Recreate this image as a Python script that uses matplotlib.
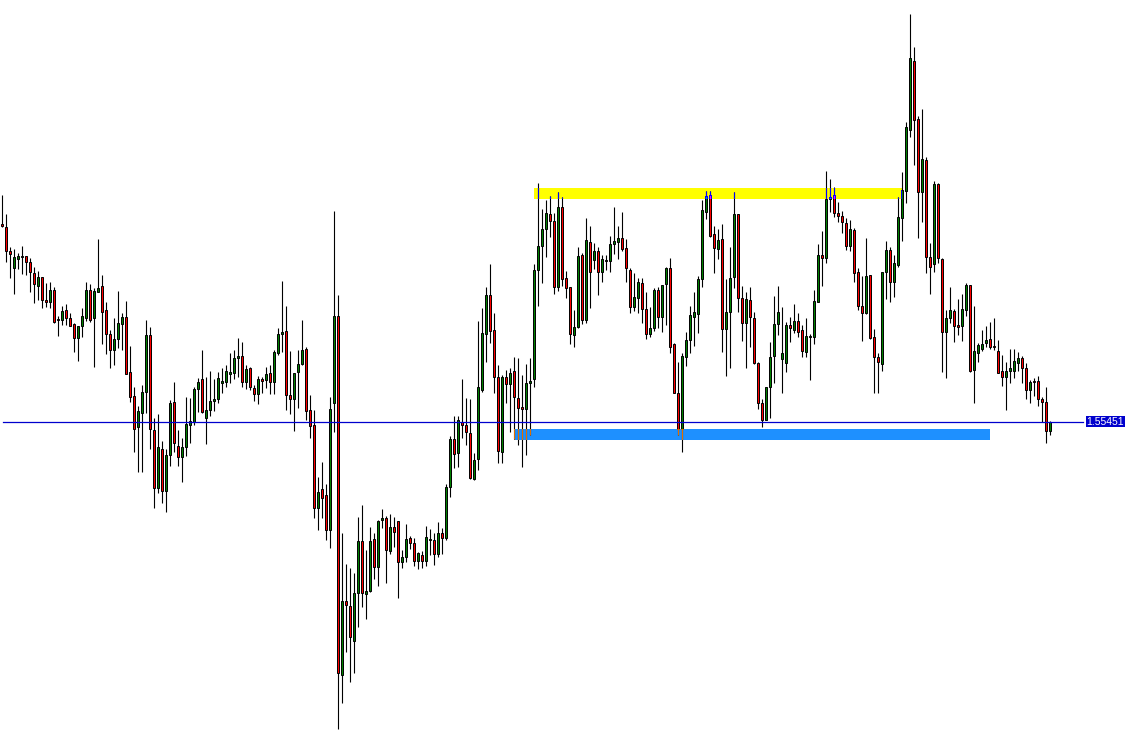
import numpy as np
import matplotlib
matplotlib.use("Agg")
import matplotlib.pyplot as plt
import matplotlib.colors as mcolors
import matplotlib.transforms as mtransforms
from matplotlib.patches import Rectangle
from matplotlib.collections import LineCollection

# OHLC, one value per bar (oldest first)
opens = [
    1.5743, 1.5740, 1.5716, 1.5699, 1.5708, 1.5710, 1.5711, 1.5705, 1.5694, 1.5681,
    1.5690, 1.5667, 1.5665, 1.5677, 1.5648, 1.5647, 1.5657, 1.5649, 1.5643, 1.5629,
    1.5641, 1.5649, 1.5677, 1.5649, 1.5675, 1.5681, 1.5657, 1.5633, 1.5617, 1.5628,
    1.5643, 1.5650, 1.5595, 1.5571, 1.5540, 1.5554, 1.5575, 1.5632, 1.5537, 1.5479,
    1.5518, 1.5476, 1.5512, 1.5565, 1.5521, 1.5510, 1.5520, 1.5542, 1.5545, 1.5578,
    1.5588, 1.5549, 1.5557, 1.5566, 1.5568, 1.5584, 1.5585, 1.5593, 1.5594, 1.5609,
    1.5611, 1.5585, 1.5599, 1.5579, 1.5573, 1.5588, 1.5587, 1.5594, 1.5585, 1.5614,
    1.5633, 1.5636, 1.5572, 1.5568, 1.5595, 1.5603, 1.5618, 1.5557, 1.5542, 1.5459,
    1.5478, 1.5472, 1.5437, 1.5564, 1.5651, 1.5292, 1.5366, 1.5361, 1.5326, 1.5374,
    1.5426, 1.5373, 1.5376, 1.5428, 1.5400, 1.5447, 1.5449, 1.5416, 1.5440, 1.5446,
    1.5405, 1.5410, 1.5429, 1.5424, 1.5406, 1.5412, 1.5406, 1.5427, 1.5427, 1.5413,
    1.5434, 1.5429, 1.5480, 1.5528, 1.5514, 1.5545, 1.5542, 1.5534, 1.5488, 1.5508,
    1.5577, 1.5633, 1.5672, 1.5637, 1.5590, 1.5515, 1.5590, 1.5583, 1.5596, 1.5569,
    1.5560, 1.5558, 1.5584, 1.5588, 1.5697, 1.5721, 1.5738, 1.5753, 1.5746, 1.5680,
    1.5760, 1.5689, 1.5680, 1.5632, 1.5640, 1.5712, 1.5647, 1.5725, 1.5707, 1.5716,
    1.5695, 1.5706, 1.5706, 1.5723, 1.5725, 1.5729, 1.5719, 1.5697, 1.5660, 1.5669,
    1.5684, 1.5658, 1.5633, 1.5639, 1.5677, 1.5650, 1.5683, 1.5699, 1.5623, 1.5574,
    1.5538, 1.5610, 1.5627, 1.5650, 1.5653, 1.5688, 1.5755, 1.5772, 1.5733, 1.5718,
    1.5728, 1.5638, 1.5655, 1.5690, 1.5753, 1.5669, 1.5644, 1.5667, 1.5649, 1.5604,
    1.5564, 1.5547, 1.5580, 1.5611, 1.5643, 1.5608, 1.5604, 1.5642, 1.5637, 1.5646,
    1.5637, 1.5615, 1.5630, 1.5630, 1.5665, 1.5712, 1.5709, 1.5768, 1.5772, 1.5754,
    1.5751, 1.5744, 1.5721, 1.5737, 1.5695, 1.5661, 1.5654, 1.5692, 1.5630, 1.5610,
    1.5603, 1.5695, 1.5717, 1.5685, 1.5702, 1.5749, 1.5776, 1.5837, 1.5906, 1.5848,
    1.5775, 1.5807, 1.5710, 1.5703, 1.5783, 1.5708, 1.5635, 1.5649, 1.5656, 1.5642,
    1.5641, 1.5657, 1.5682, 1.5597, 1.5614, 1.5618, 1.5624, 1.5628, 1.5621, 1.5616,
    1.5596, 1.5590, 1.5596, 1.5596, 1.5604, 1.5609, 1.5599, 1.5577, 1.5586, 1.5586,
    1.5568, 1.5565, 1.5536,
]
highs = [
    1.5772, 1.5753, 1.5720, 1.5718, 1.5714, 1.5721, 1.5711, 1.5709, 1.5700, 1.5696,
    1.5690, 1.5684, 1.5685, 1.5680, 1.5651, 1.5661, 1.5663, 1.5654, 1.5644, 1.5641,
    1.5659, 1.5685, 1.5683, 1.5679, 1.5728, 1.5692, 1.5665, 1.5637, 1.5649, 1.5676,
    1.5654, 1.5666, 1.5621, 1.5580, 1.5561, 1.5582, 1.5647, 1.5640, 1.5549, 1.5553,
    1.5526, 1.5518, 1.5567, 1.5585, 1.5537, 1.5529, 1.5570, 1.5569, 1.5580, 1.5589,
    1.5617, 1.5590, 1.5596, 1.5588, 1.5595, 1.5599, 1.5602, 1.5614, 1.5617, 1.5629,
    1.5625, 1.5602, 1.5600, 1.5582, 1.5591, 1.5590, 1.5600, 1.5602, 1.5617, 1.5639,
    1.5686, 1.5661, 1.5616, 1.5594, 1.5617, 1.5647, 1.5620, 1.5572, 1.5557, 1.5490,
    1.5505, 1.5483, 1.5570, 1.5756, 1.5672, 1.5434, 1.5403, 1.5399, 1.5394, 1.5450,
    1.5462, 1.5417, 1.5440, 1.5434, 1.5447, 1.5458, 1.5451, 1.5453, 1.5450, 1.5446,
    1.5417, 1.5443, 1.5431, 1.5429, 1.5415, 1.5416, 1.5441, 1.5438, 1.5434, 1.5445,
    1.5439, 1.5483, 1.5531, 1.5551, 1.5551, 1.5588, 1.5569, 1.5568, 1.5514, 1.5646,
    1.5659, 1.5680, 1.5703, 1.5654, 1.5602, 1.5592, 1.5597, 1.5599, 1.5610, 1.5609,
    1.5592, 1.5603, 1.5609, 1.5703, 1.5784, 1.5758, 1.5767, 1.5771, 1.5754, 1.5775,
    1.5770, 1.5696, 1.5680, 1.5657, 1.5720, 1.5714, 1.5749, 1.5741, 1.5724, 1.5720,
    1.5712, 1.5712, 1.5731, 1.5760, 1.5741, 1.5755, 1.5728, 1.5699, 1.5694, 1.5689,
    1.5689, 1.5675, 1.5660, 1.5679, 1.5680, 1.5682, 1.5700, 1.5709, 1.5624, 1.5605,
    1.5614, 1.5635, 1.5661, 1.5675, 1.5691, 1.5767, 1.5776, 1.5776, 1.5741, 1.5738,
    1.5743, 1.5688, 1.5720, 1.5775, 1.5753, 1.5681, 1.5675, 1.5680, 1.5655, 1.5605,
    1.5568, 1.5580, 1.5625, 1.5671, 1.5681, 1.5660, 1.5645, 1.5650, 1.5663, 1.5654,
    1.5642, 1.5649, 1.5633, 1.5677, 1.5723, 1.5736, 1.5796, 1.5788, 1.5780, 1.5765,
    1.5756, 1.5749, 1.5747, 1.5739, 1.5699, 1.5691, 1.5729, 1.5692, 1.5638, 1.5614,
    1.5695, 1.5726, 1.5720, 1.5712, 1.5770, 1.5795, 1.5845, 1.5953, 1.5920, 1.5851,
    1.5858, 1.5810, 1.5724, 1.5786, 1.5784, 1.5709, 1.5657, 1.5680, 1.5658, 1.5668,
    1.5673, 1.5684, 1.5682, 1.5661, 1.5624, 1.5637, 1.5641, 1.5645, 1.5649, 1.5627,
    1.5612, 1.5605, 1.5618, 1.5618, 1.5615, 1.5611, 1.5604, 1.5587, 1.5589, 1.5591,
    1.5570, 1.5580, 1.5546,
]
lows = [
    1.5740, 1.5705, 1.5689, 1.5673, 1.5698, 1.5693, 1.5692, 1.5675, 1.5664, 1.5667,
    1.5659, 1.5660, 1.5659, 1.5644, 1.5631, 1.5642, 1.5642, 1.5641, 1.5615, 1.5606,
    1.5630, 1.5646, 1.5645, 1.5600, 1.5675, 1.5623, 1.5613, 1.5599, 1.5602, 1.5619,
    1.5617, 1.5593, 1.5565, 1.5515, 1.5495, 1.5495, 1.5554, 1.5518, 1.5459, 1.5474,
    1.5464, 1.5455, 1.5501, 1.5515, 1.5501, 1.5485, 1.5511, 1.5524, 1.5542, 1.5555,
    1.5554, 1.5523, 1.5551, 1.5556, 1.5564, 1.5574, 1.5580, 1.5584, 1.5588, 1.5590,
    1.5580, 1.5578, 1.5577, 1.5566, 1.5563, 1.5574, 1.5579, 1.5573, 1.5573, 1.5612,
    1.5615, 1.5557, 1.5553, 1.5536, 1.5559, 1.5602, 1.5547, 1.5529, 1.5449, 1.5437,
    1.5449, 1.5427, 1.5419, 1.5535, 1.5238, 1.5264, 1.5315, 1.5285, 1.5294, 1.5340,
    1.5360, 1.5348, 1.5375, 1.5388, 1.5381, 1.5439, 1.5384, 1.5413, 1.5420, 1.5369,
    1.5399, 1.5405, 1.5418, 1.5401, 1.5398, 1.5399, 1.5401, 1.5412, 1.5402, 1.5410,
    1.5413, 1.5427, 1.5470, 1.5499, 1.5500, 1.5529, 1.5522, 1.5488, 1.5487, 1.5497,
    1.5575, 1.5605, 1.5624, 1.5574, 1.5504, 1.5504, 1.5564, 1.5535, 1.5528, 1.5522,
    1.5500, 1.5512, 1.5532, 1.5580, 1.5661, 1.5684, 1.5710, 1.5730, 1.5673, 1.5676,
    1.5681, 1.5669, 1.5623, 1.5620, 1.5639, 1.5643, 1.5644, 1.5659, 1.5698, 1.5672,
    1.5685, 1.5697, 1.5695, 1.5713, 1.5708, 1.5716, 1.5685, 1.5654, 1.5656, 1.5654,
    1.5644, 1.5628, 1.5630, 1.5636, 1.5639, 1.5635, 1.5642, 1.5614, 1.5574, 1.5532,
    1.5515, 1.5601, 1.5614, 1.5621, 1.5634, 1.5680, 1.5748, 1.5730, 1.5694, 1.5708,
    1.5615, 1.5591, 1.5599, 1.5679, 1.5655, 1.5626, 1.5599, 1.5620, 1.5603, 1.5558,
    1.5540, 1.5547, 1.5549, 1.5584, 1.5632, 1.5574, 1.5595, 1.5625, 1.5634, 1.5630,
    1.5610, 1.5610, 1.5587, 1.5623, 1.5665, 1.5681, 1.5704, 1.5755, 1.5750, 1.5745,
    1.5734, 1.5717, 1.5716, 1.5685, 1.5657, 1.5626, 1.5653, 1.5628, 1.5574, 1.5574,
    1.5596, 1.5668, 1.5665, 1.5670, 1.5700, 1.5726, 1.5764, 1.5830, 1.5802, 1.5729,
    1.5745, 1.5694, 1.5673, 1.5695, 1.5704, 1.5595, 1.5589, 1.5644, 1.5625, 1.5632,
    1.5626, 1.5651, 1.5595, 1.5564, 1.5605, 1.5616, 1.5620, 1.5618, 1.5617, 1.5594,
    1.5581, 1.5557, 1.5584, 1.5589, 1.5596, 1.5584, 1.5568, 1.5564, 1.5571, 1.5561,
    1.5545, 1.5524, 1.5532,
]
closes = [
    1.5741, 1.5716, 1.5713, 1.5710, 1.5711, 1.5711, 1.5705, 1.5695, 1.5683, 1.5690,
    1.5667, 1.5665, 1.5677, 1.5645, 1.5647, 1.5656, 1.5649, 1.5641, 1.5629, 1.5641,
    1.5651, 1.5677, 1.5647, 1.5676, 1.5679, 1.5655, 1.5633, 1.5617, 1.5628, 1.5644,
    1.5650, 1.5593, 1.5570, 1.5538, 1.5556, 1.5575, 1.5632, 1.5538, 1.5479, 1.5520,
    1.5476, 1.5512, 1.5564, 1.5524, 1.5510, 1.5520, 1.5543, 1.5546, 1.5578, 1.5585,
    1.5555, 1.5557, 1.5566, 1.5568, 1.5589, 1.5586, 1.5596, 1.5595, 1.5609, 1.5611,
    1.5585, 1.5598, 1.5580, 1.5573, 1.5588, 1.5586, 1.5593, 1.5585, 1.5615, 1.5633,
    1.5635, 1.5572, 1.5568, 1.5594, 1.5603, 1.5617, 1.5556, 1.5541, 1.5459, 1.5475,
    1.5469, 1.5437, 1.5558, 1.5651, 1.5294, 1.5366, 1.5362, 1.5330, 1.5374, 1.5426,
    1.5374, 1.5376, 1.5426, 1.5400, 1.5446, 1.5449, 1.5417, 1.5440, 1.5435, 1.5405,
    1.5410, 1.5428, 1.5424, 1.5406, 1.5414, 1.5406, 1.5430, 1.5428, 1.5413, 1.5434,
    1.5429, 1.5480, 1.5528, 1.5513, 1.5547, 1.5542, 1.5535, 1.5489, 1.5507, 1.5580,
    1.5634, 1.5672, 1.5636, 1.5590, 1.5516, 1.5590, 1.5583, 1.5594, 1.5570, 1.5559,
    1.5558, 1.5584, 1.5586, 1.5697, 1.5721, 1.5738, 1.5754, 1.5746, 1.5680, 1.5760,
    1.5688, 1.5679, 1.5633, 1.5640, 1.5711, 1.5647, 1.5727, 1.5695, 1.5716, 1.5695,
    1.5708, 1.5707, 1.5723, 1.5726, 1.5729, 1.5718, 1.5699, 1.5660, 1.5670, 1.5685,
    1.5658, 1.5633, 1.5639, 1.5677, 1.5650, 1.5682, 1.5699, 1.5620, 1.5574, 1.5538,
    1.5611, 1.5627, 1.5652, 1.5655, 1.5688, 1.5757, 1.5771, 1.5731, 1.5719, 1.5727,
    1.5638, 1.5655, 1.5689, 1.5753, 1.5669, 1.5644, 1.5668, 1.5650, 1.5604, 1.5564,
    1.5547, 1.5580, 1.5610, 1.5643, 1.5655, 1.5614, 1.5642, 1.5639, 1.5646, 1.5635,
    1.5616, 1.5631, 1.5631, 1.5666, 1.5712, 1.5709, 1.5768, 1.5770, 1.5754, 1.5751,
    1.5745, 1.5721, 1.5738, 1.5694, 1.5661, 1.5654, 1.5691, 1.5629, 1.5610, 1.5605,
    1.5695, 1.5717, 1.5685, 1.5704, 1.5750, 1.5777, 1.5840, 1.5909, 1.5847, 1.5775,
    1.5808, 1.5710, 1.5700, 1.5783, 1.5709, 1.5635, 1.5649, 1.5657, 1.5641, 1.5640,
    1.5658, 1.5682, 1.5596, 1.5616, 1.5622, 1.5623, 1.5627, 1.5620, 1.5620, 1.5594,
    1.5590, 1.5596, 1.5599, 1.5606, 1.5609, 1.5599, 1.5577, 1.5585, 1.5585, 1.5568,
    1.5565, 1.5536, 1.55451,
]

# zones drawn on the chart (bar index range, price range)
res_bars = (132.9, 224.9)
res_prices = (1.5768, 1.5779)
sup_bars = (127.9, 246.9)
sup_prices = (1.5527, 1.5538)

o, h, l, c = map(np.array, (opens, highs, lows, closes))
x = np.arange(len(o))
up = c >= o

BULL = "#008000"
BEAR = "#FF0000"
BID = "#0000CD"


def inv_xor(col, bg):
    # MT4 style XOR of a candle colour over a filled rectangle
    a = (np.array(mcolors.to_rgb(col)) * 255).round().astype(int)
    b = (np.array(mcolors.to_rgb(bg)) * 255).round().astype(int)
    return tuple((a ^ (255 - b)) / 255.0)


def draw_candles(ax, wick, bull, bear, clip=None, z=3):
    segs = [[(i, lo), (i, hi)] for i, lo, hi in zip(x, l, h)]
    lc = LineCollection(segs, colors=wick, linewidths=0.8, zorder=z)
    ax.add_collection(lc)
    bottoms = np.minimum(o, c)
    heights = np.maximum(np.abs(c - o), 0.00004)
    cols = [bull if u else bear for u in up]
    bars = ax.bar(x, heights, bottom=bottoms, width=0.5, color=cols,
                  edgecolor=wick, linewidth=0.7, zorder=z + 1)
    if clip is not None:
        lc.set_clip_path(clip)
        for b in bars:
            b.set_clip_path(clip)


fig = plt.figure(figsize=(11.36, 7.56), dpi=100)
ax = fig.add_axes([0, 0, 1, 1])
ax.set_axis_off()
ax.set_xlim(-0.575, 283.425)
ax.set_ylim(1.5211, 1.5967)

zones = []
for bars_rng, prices, col in [(res_bars, res_prices, "#FFFF00"),
                              (sup_bars, sup_prices, "#1E90FF")]:
    r = Rectangle((bars_rng[0], prices[0]), bars_rng[1] - bars_rng[0],
                  prices[1] - prices[0], facecolor=col, edgecolor="none", zorder=1)
    ax.add_patch(r)
    zones.append((r, col))

draw_candles(ax, "black", BULL, BEAR)
for r, col in zones:
    draw_candles(ax, inv_xor("black", col), inv_xor(BULL, col),
                 inv_xor(BEAR, col), clip=r, z=6)

# bid line and price label
last = closes[-1]
ax.axhline(last, xmin=3 / 1136, xmax=1083 / 1136, color=BID, lw=0.9, zorder=8)
trans = mtransforms.blended_transform_factory(ax.transAxes, ax.transData)
ax.add_patch(Rectangle((1086 / 1136, last - 0.00055), 39 / 1136, 0.0011,
                       transform=trans, facecolor=BID, edgecolor="none",
                       zorder=9, clip_on=False))
ax.text(1105.5 / 1136, last, f"{last:.5f}", transform=trans, color="white",
        fontsize=7.5, family=["Liberation Sans", "DejaVu Sans"],
        ha="center", va="center", zorder=10)

fig.savefig("out.png", dpi=100)
